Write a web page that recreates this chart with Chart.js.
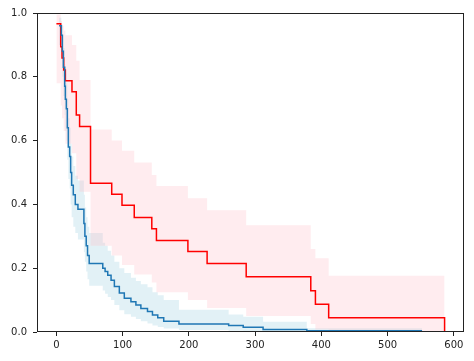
<!DOCTYPE html>
<html>
<head>
<meta charset="utf-8">
<script src="https://cdn.jsdelivr.net/npm/chart.js@4/dist/chart.umd.min.js"></script>
<style>
  html, body { margin: 0; padding: 0; background: #fff; }
  #wrap { width: 474px; height: 361px; }
</style>
</head>
<body>
<div id="wrap"><canvas id="km" width="474" height="361"></canvas></div>
<script>
// group 1 (red) - survival steps and confidence band
const redTimes = [0, 6.5, 8.5, 11, 13.5, 23.5, 30, 35, 51.5, 83.5, 99, 117.5, 144, 151, 198.5, 227.5, 286.5, 384, 391, 411, 586];
const redSurv  = [0.966, 0.894, 0.859, 0.821, 0.788, 0.753, 0.68, 0.644, 0.466, 0.432, 0.397, 0.359, 0.324, 0.287, 0.252, 0.215, 0.173, 0.129, 0.087, 0.045, 0];
const redUpper = [0.995, 0.975, 0.96, 0.945, 0.93, 0.9, 0.85, 0.79, 0.635, 0.6, 0.568, 0.531, 0.492, 0.458, 0.419, 0.382, 0.335, 0.26, 0.231, 0.176, 0.176];
const redLower = [0.78, 0.71, 0.67, 0.63, 0.59, 0.56, 0.48, 0.44, 0.27, 0.24, 0.21, 0.18, 0.155, 0.125, 0.1, 0.075, 0.05, 0.025, 0.008, 0.001, 0.001];

// group 2 (blue)
const blueTimes = [4, 7.5, 9, 10.5, 12.5, 13.5, 15, 16.5, 18, 20, 21.5, 23, 25.5, 28.5, 32.5, 41.5, 43, 45, 47, 49.5, 70, 73.5, 77.5, 82.5, 87.5, 95, 102.5, 112.5, 120, 127.5, 137.5, 145, 153, 162, 185, 260, 282, 312, 378, 552];
const blueSurv  = [0.96, 0.93, 0.88, 0.83, 0.77, 0.73, 0.7, 0.64, 0.58, 0.55, 0.5, 0.46, 0.43, 0.4, 0.385, 0.34, 0.3, 0.27, 0.24, 0.215, 0.2, 0.19, 0.178, 0.162, 0.143, 0.122, 0.106, 0.095, 0.085, 0.074, 0.064, 0.053, 0.045, 0.034, 0.025, 0.02, 0.015, 0.008, 0.004, 0.004];
const blueUpper = [0.985, 0.965, 0.93, 0.89, 0.84, 0.81, 0.78, 0.73, 0.67, 0.64, 0.59, 0.55, 0.52, 0.49, 0.475, 0.43, 0.39, 0.36, 0.33, 0.31, 0.28, 0.27, 0.255, 0.24, 0.22, 0.2, 0.185, 0.17, 0.16, 0.15, 0.14, 0.125, 0.115, 0.1, 0.07, 0.055, 0.048, 0.032, 0.012, 0.012];
const blueLower = [0.9, 0.86, 0.8, 0.74, 0.68, 0.63, 0.6, 0.54, 0.48, 0.45, 0.4, 0.36, 0.33, 0.31, 0.29, 0.25, 0.22, 0.19, 0.165, 0.145, 0.13, 0.12, 0.11, 0.1, 0.085, 0.068, 0.056, 0.048, 0.041, 0.034, 0.027, 0.02, 0.016, 0.011, 0.006, 0.004, 0.003, 0.001, 0.0003, 0.0003];

// axes
const xMin = -29.3, xMax = 615.3;
const xTicks = [0, 100, 200, 300, 400, 500, 600];
const yTicks = [0, 0.2, 0.4, 0.6, 0.8, 1.0];

const pts = (xs, ys) => xs.map((x, i) => ({ x: x, y: ys[i] }));

function stepLine(data, color) {
    return { data: data, stepped: 'before', borderColor: color, borderWidth: 1.5, pointRadius: 0, fill: false };
}
function band(data, fillColor, fillTo) {
    return { data: data, stepped: 'before', borderWidth: 0, borderColor: 'rgba(0,0,0,0)', pointRadius: 0,
             backgroundColor: fillColor, fill: fillTo };
}

const frame = {
    id: 'frame',
    afterDraw(chart) {
        const a = chart.chartArea, ctx = chart.ctx;
        ctx.save();
        ctx.strokeStyle = '#222';
        ctx.lineWidth = 1;
        ctx.strokeRect(Math.round(a.left) + 0.5, Math.round(a.top) + 0.5,
                       Math.round(a.right - a.left) - 1, Math.round(a.bottom - a.top) - 1);
        ctx.restore();
    }
};

const tickFont = { family: 'DejaVu Sans', size: 10 };

new Chart(document.getElementById('km').getContext('2d'), {
    type: 'line',
    data: {
        datasets: [
            stepLine(pts(blueTimes, blueSurv), '#1f77b4'),
            stepLine(pts(redTimes, redSurv), '#ff0000'),
            band(pts(redTimes, redUpper), 'rgba(255,192,203,0.3)', '+1'),
            band(pts(redTimes, redLower), 'rgba(0,0,0,0)', false),
            band(pts(blueTimes, blueUpper), 'rgba(173,216,230,0.35)', '+1'),
            band(pts(blueTimes, blueLower), 'rgba(0,0,0,0)', false)
        ]
    },
    options: {
        responsive: false,
        animation: false,
        devicePixelRatio: 1,
        layout: { padding: { top: 13, right: 10, left: 0, bottom: 0 } },
        plugins: {
            legend: { display: false },
            tooltip: { enabled: false },
            filler: { drawTime: 'beforeDatasetsDraw' }
        },
        scales: {
            x: {
                type: 'linear',
                min: xMin,
                max: xMax,
                afterFit: s => { s.height = 29; },
                afterBuildTicks: s => { s.ticks = xTicks.map(v => ({ value: v })); },
                ticks: { font: tickFont, color: '#222', padding: 3, maxRotation: 0, callback: v => String(v) },
                grid: { drawOnChartArea: false, drawTicks: true, tickLength: 4, tickColor: '#222' },
                border: { display: false }
            },
            y: {
                type: 'linear',
                min: 0,
                max: 1,
                afterFit: s => { s.width = 37; },
                afterBuildTicks: s => { s.ticks = yTicks.map(v => ({ value: v })); },
                ticks: { font: tickFont, color: '#222', padding: 6, callback: v => v.toFixed(1) },
                grid: { drawOnChartArea: false, drawTicks: true, tickLength: 4, tickColor: '#222' },
                border: { display: false }
            }
        }
    },
    plugins: [frame]
});
</script>
</body>
</html>
